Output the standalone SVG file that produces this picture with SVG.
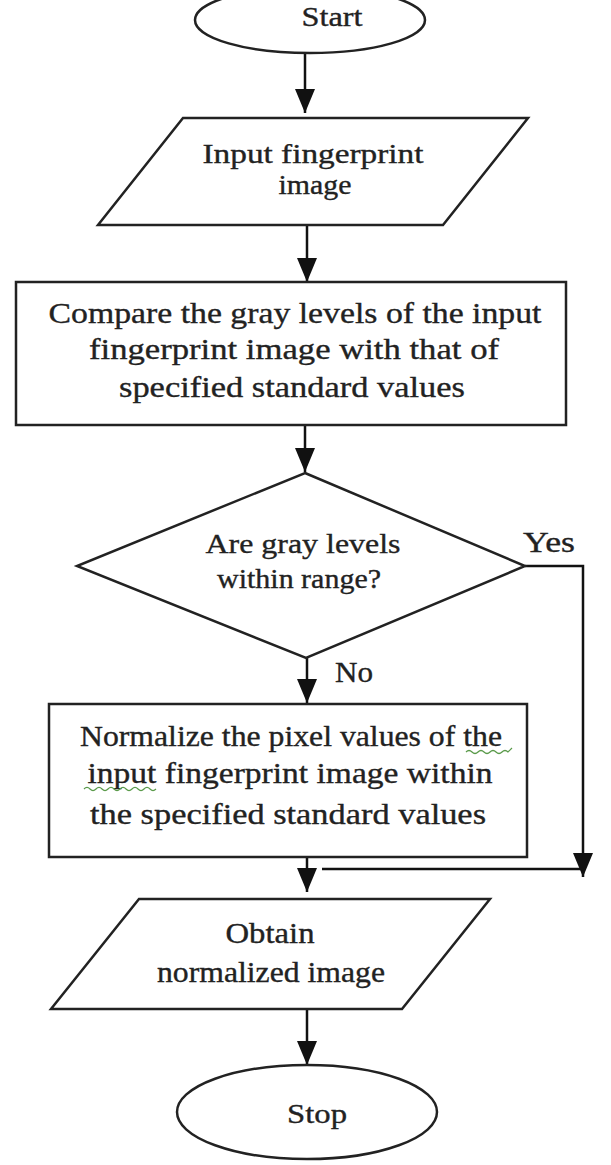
<svg xmlns="http://www.w3.org/2000/svg" width="611" height="1165" viewBox="0 0 611 1165">
<style>
.shape{fill:#fff;stroke:#222;stroke-width:2.5}
.conn{fill:none;stroke:#111;stroke-width:2.5}
.t{font-family:"Liberation Serif","Times New Roman",serif;fill:#222;stroke:#222;stroke-width:0.35;text-anchor:middle}
.sq{fill:none;stroke:#5a9a4a;stroke-width:1.2}
</style>
<defs>
<marker id="ah" viewBox="0 0 24 20" refX="24" refY="10" markerWidth="24" markerHeight="20" orient="auto" markerUnits="userSpaceOnUse">
<path d="M0,0 L24,10 L0,20 z" fill="#111"/>
</marker>
</defs>
<rect width="611" height="1165" fill="#fff"/>
<g id="connectors">
<line class="conn" x1="305" y1="53" x2="305" y2="113" marker-end="url(#ah)"/>
<line class="conn" x1="307" y1="225" x2="307" y2="282" marker-end="url(#ah)"/>
<line class="conn" x1="305" y1="417" x2="305" y2="472" marker-end="url(#ah)"/>
<line class="conn" x1="307" y1="658" x2="307" y2="703" marker-end="url(#ah)"/>
<line class="conn" x1="307" y1="840" x2="307" y2="892" marker-end="url(#ah)"/>
<polyline class="conn" points="525,566 583,566 583,877" marker-end="url(#ah)"/>
<line class="conn" x1="322" y1="869" x2="583" y2="869"/>
<line class="conn" x1="307" y1="1009" x2="307" y2="1065" marker-end="url(#ah)"/>
<text class="t" x="549" y="552" font-size="29" textLength="52" lengthAdjust="spacingAndGlyphs">Yes</text>
<text class="t" x="354" y="682" font-size="29" textLength="38" lengthAdjust="spacingAndGlyphs">No</text>
</g>
<g id="start">
<ellipse class="shape" cx="310" cy="20" rx="115" ry="33"/>
<text class="t" x="332" y="26" font-size="27" textLength="61" lengthAdjust="spacingAndGlyphs">Start</text>
</g>
<g id="input">
<polygon class="shape" points="183,118 528,118 443,225 98,225"/>
<text class="t" x="313" y="163" font-size="27" textLength="221" lengthAdjust="spacingAndGlyphs">Input fingerprint</text>
<text class="t" x="315" y="194" font-size="27" textLength="73" lengthAdjust="spacingAndGlyphs">image</text>
</g>
<g id="compare">
<rect class="shape" x="16" y="282" width="550" height="143"/>
<text class="t" x="295" y="323" font-size="30" textLength="493" lengthAdjust="spacingAndGlyphs">Compare the gray levels of the input</text>
<text class="t" x="294" y="359" font-size="30" textLength="410" lengthAdjust="spacingAndGlyphs">fingerprint  image with that of</text>
<text class="t" x="292" y="397" font-size="30" textLength="346" lengthAdjust="spacingAndGlyphs">specified standard values</text>
</g>
<g id="decision">
<polygon class="shape" points="305,473 525,566 306,658 77,566"/>
<text class="t" x="303" y="553" font-size="28" textLength="195" lengthAdjust="spacingAndGlyphs">Are gray levels</text>
<text class="t" x="299" y="588" font-size="28" textLength="164" lengthAdjust="spacingAndGlyphs">within range?</text>
</g>
<g id="normalize">
<rect class="shape" x="49" y="704" width="478" height="153"/>
<text class="t" x="291" y="746" font-size="30" textLength="422" lengthAdjust="spacingAndGlyphs">Normalize the pixel values of the</text>
<text class="t" x="290" y="783" font-size="30" textLength="405" lengthAdjust="spacingAndGlyphs">input fingerprint image within</text>
<text class="t" x="288" y="824" font-size="30" textLength="396" lengthAdjust="spacingAndGlyphs">the specified standard values</text>
<path class="sq" d="M466,752 q3,-3 6,0 t6,0 t6,0 t6,0 t6,0 t6,0 t6,0 q3,-3 4,-4"/>
<path class="sq" d="M84,789 q3,-3 6,0 t6,0 t6,0 t6,0 t6,0 t6,0 t6,0 t6,0 t6,0 t6,0 t6,0 t6,0"/>
</g>
<g id="obtain">
<polygon class="shape" points="139,899 490,899 402,1009 51,1009"/>
<text class="t" x="270" y="943" font-size="29" textLength="89" lengthAdjust="spacingAndGlyphs">Obtain</text>
<text class="t" x="271" y="982" font-size="29" textLength="228" lengthAdjust="spacingAndGlyphs">normalized image</text>
</g>
<g id="stop">
<ellipse class="shape" cx="307" cy="1112" rx="130" ry="47"/>
<text class="t" x="317" y="1123" font-size="27" textLength="60" lengthAdjust="spacingAndGlyphs">Stop</text>
</g>
</svg>
